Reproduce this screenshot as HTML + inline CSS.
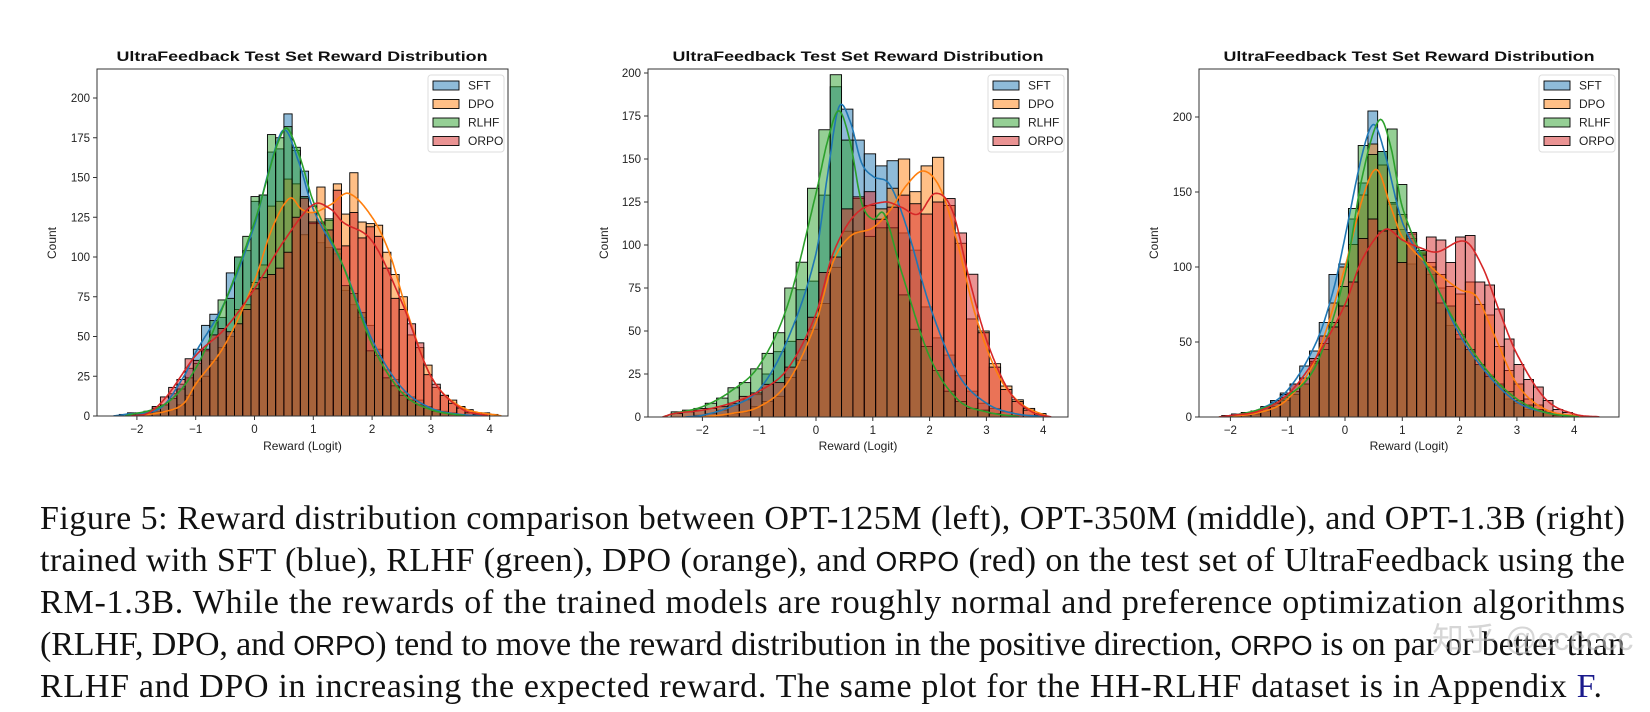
<!DOCTYPE html>
<html><head><meta charset="utf-8"><style>
html,body{margin:0;padding:0;background:#fff;}
svg{display:block;}
</style></head><body>
<svg id="s" width="1650" height="712" xmlns="http://www.w3.org/2000/svg" font-family="'Liberation Sans', 'DejaVu Sans', sans-serif">
<rect width="1650" height="712" fill="#fff"/>
<g id="plots"></g>
<g font-family="'Liberation Serif', serif" font-size="34" fill="#111">
<text x="40" y="529" textLength="1585" lengthAdjust="spacing">Figure 5: Reward distribution comparison between OPT-125M (left), OPT-350M (middle), and OPT-1.3B (right)</text>
<text x="40" y="571" textLength="1585" lengthAdjust="spacing">trained with SFT (blue), RLHF (green), DPO (orange), and <tspan font-family="'Liberation Sans', sans-serif" font-size="28">ORPO</tspan> (red) on the test set of UltraFeedback using the</text>
<text x="40" y="613" textLength="1585" lengthAdjust="spacing">RM-1.3B. While the rewards of the trained models are roughly normal and preference optimization algorithms</text>
<text x="40" y="655" textLength="1585" lengthAdjust="spacing">(RLHF, DPO, and <tspan font-family="'Liberation Sans', sans-serif" font-size="28">ORPO</tspan>) tend to move the reward distribution in the positive direction, <tspan font-family="'Liberation Sans', sans-serif" font-size="28">ORPO</tspan> is on par or better than</text>
<text x="40" y="697" textLength="1562" lengthAdjust="spacing">RLHF and DPO in increasing the expected reward. The same plot for the HH-RLHF dataset is in Appendix <tspan fill="#1a1a8c">F</tspan>.</text>
</g>
<text x="1432" y="650" font-family="'Liberation Sans','Noto Sans CJK SC',sans-serif" font-size="32" fill="#bbb" opacity="0.6">知乎 @cccccc</text>
</svg>
<script>
var NS="http://www.w3.org/2000/svg";
function el(t,a,p){var e=document.createElementNS(NS,t);for(var k in a)e.setAttribute(k,a[k]);(p||G).appendChild(e);return e;}
var G=document.getElementById('plots');
function interp(p,x){
 if(x<=p[0][0]||x>=p[p.length-1][0])return 0;
 for(var i=0;i<p.length-1;i++){if(x>=p[i][0]&&x<=p[i+1][0])break;}
 var p0=p[Math.max(0,i-1)],p1=p[i],p2=p[i+1],p3=p[Math.min(p.length-1,i+2)];
 var t=(x-p1[0])/(p2[0]-p1[0]);
 var h=p2[0]-p1[0];
 var m1=(p2[1]-p0[1])/(p2[0]-p0[0]||1)*h, m2=(p3[1]-p1[1])/(p3[0]-p1[0]||1)*h;
 var t2=t*t,t3=t2*t;
 var v=(2*t3-3*t2+1)*p1[1]+(t3-2*t2+t)*m1+(-2*t3+3*t2)*p2[1]+(t3-t2)*m2;
 return Math.max(0,v);
}
function noise(i,s){var v=Math.sin(i*12.9898+s*78.233)*43758.5453;return (v-Math.floor(v))*2-1;}
var cols={SFT:'#1f77b4',DPO:'#ff7f0e',RLHF:'#2ca02c',ORPO:'#d62728'};
var plots=[
{L:97,R:508,T:69,B:416,x0:254.5,u:58.8,pc:1.59,yt:[0,25,50,75,100,125,150,175,200],bs:-2.3,bw:0.14,nb:46,cx:302,lx:52,
 c:{SFT:[[-2.4,0],[-2.2,1],[-1.6,5],[-1.2,25],[-1,40],[-0.5,72],[0,120],[0.25,155],[0.5,180],[0.75,160],[1,130],[1.5,95],[2,48],[2.5,18],[3,5],[3.5,1],[4,0]],
 DPO:[[-2,0],[-1.5,3],[-1.2,8],[-1,20],[-0.5,45],[0,85],[0.3,118],[0.6,137],[0.8,130],[1,128],[1.3,133],[1.6,140],[2,125],[2.3,102],[2.6,65],[3,25],[3.5,6],[4.2,0]],
 RLHF:[[-2.2,0],[-1.5,8],[-1,30],[-0.5,72],[0,122],[0.5,180],[0.75,165],[1,135],[1.5,95],[2,45],[2.5,15],[3,4],[3.6,0]],
 ORPO:[[-2.1,0],[-1.8,2],[-1.5,12],[-1,38],[-0.5,55],[0,80],[0.5,110],[1,133],[1.3,130],[1.5,122],[2,110],[2.5,72],[3,25],[3.5,5],[4,0]]}},
{L:648,R:1068,T:69,B:417,x0:816,u:56.8,pc:1.72,yt:[0,25,50,75,100,125,150,175,200],bs:-2.55,bw:0.2,nb:34,cx:858,lx:604,
 c:{SFT:[[-2.3,0],[-2,1],[-1.5,6],[-1,16],[-0.5,45],[0,95],[0.2,140],[0.4,180],[0.6,172],[0.8,148],[1,140],[1.3,135],[1.6,110],[2,65],[2.5,25],[3,8],[3.5,2],[4.1,0]],
 DPO:[[-2,0],[-1.5,2],[-1,6],[-0.5,20],[0,55],[0.3,90],[0.6,105],[1,110],[1.3,120],[1.6,135],[1.9,143],[2.2,132],[2.5,100],[2.8,60],[3.2,25],[3.6,8],[4.1,0]],
 RLHF:[[-2.7,0],[-2.5,2],[-2,6],[-1.5,15],[-1,30],[-0.5,65],[0,130],[0.2,160],[0.4,178],[0.6,160],[0.8,125],[1,115],[1.2,118],[1.5,85],[2,35],[2.5,10],[3,3],[3.6,0]],
 ORPO:[[-2.7,0],[-2.5,2],[-2,4],[-1.5,8],[-1,15],[-0.5,28],[0,60],[0.3,95],[0.7,118],[1.2,125],[1.5,122],[1.8,118],[2.1,130],[2.4,120],[2.7,80],[3,45],[3.4,15],[3.8,3],[4.15,0]]}},
{L:1199,R:1619,T:69,B:417,x0:1345,u:57.3,pc:1.5,yt:[0,50,100,150,200],bs:-2.15,bw:0.17,nb:39,cx:1409,lx:1154,
 c:{SFT:[[-2.2,0],[-2,1],[-1.5,5],[-1,18],[-0.5,50],[-0.2,85],[0,120],[0.3,175],[0.5,195],[0.7,175],[1,130],[1.5,95],[2,55],[2.5,28],[3,10],[3.5,3],[4.1,0]],
 DPO:[[-2.2,0],[-1.5,3],[-1,12],[-0.5,40],[0,100],[0.3,145],[0.55,165],[0.8,140],[1,120],[1.5,100],[2,85],[2.3,80],[2.6,55],[3,22],[3.5,5],[4.2,0]],
 RLHF:[[-2.1,0],[-1.5,5],[-1,14],[-0.5,35],[0,95],[0.3,160],[0.6,198],[0.8,180],[1,140],[1.5,95],[2,58],[2.5,30],[3,12],[3.5,3],[4.1,0]],
 ORPO:[[-2.2,0],[-2,1],[-1.5,4],[-1,15],[-0.5,40],[0,75],[0.3,105],[0.7,125],[1,118],[1.3,113],[1.6,110],[2.1,117],[2.4,100],[2.7,70],[3,42],[3.5,12],[4,2],[4.45,0]]}}
];
var order=['SFT','DPO','RLHF','ORPO'];
plots.forEach(function(P,pi){
 var X=function(v){return P.x0+v*P.u;}, Y=function(c){return P.B-c*P.pc;};
 var clip='c'+pi;
 var cp=el('clipPath',{id:clip});el('rect',{x:P.L,y:P.T,width:P.R-P.L,height:P.B-P.T},cp);
 var g=el('g',{'clip-path':'url(#'+clip+')'});
 order.forEach(function(k,si){
  for(var i=0;i<P.nb;i++){
   var a=P.bs+i*P.bw,m=a+P.bw/2;
   var v=interp(P.c[k],m); if(v<0.6)continue;
   v=v*(1+0.13*noise(i,si+pi*7)); v=Math.round(v); if(v<1)continue;
   el('rect',{x:X(a),y:Y(v),width:P.bw*P.u,height:v*P.pc,fill:cols[k],'fill-opacity':0.5,stroke:'#000','stroke-width':0.9},g);
  }
 });
 order.forEach(function(k){
  var pts=P.c[k],d='';
  for(var x=pts[0][0];x<=pts[pts.length-1][0];x+=0.02){d+=(d?'L':'M')+X(x).toFixed(1)+','+Y(interp(pts,x)).toFixed(1);}
  el('path',{d:d,fill:'none',stroke:cols[k],'stroke-width':1.6},g);
 });
 el('rect',{x:P.L,y:P.T,width:P.R-P.L,height:P.B-P.T,fill:'none',stroke:'#333','stroke-width':1});
 for(var t=-2;t<=4;t++){var x=X(t);el('line',{x1:x,x2:x,y1:P.B,y2:P.B+4,stroke:'#333'});
  var tx=el('text',{x:x,y:P.B+17,'text-anchor':'middle','font-size':11.5,fill:'#222'});tx.textContent=(t<0?'\u2212'+(-t):t);}
 P.yt.forEach(function(t){var y=Y(t);el('line',{x1:P.L-4,x2:P.L,y1:y,y2:y,stroke:'#333'});
  var tx=el('text',{x:P.L-7,y:y+4,'text-anchor':'end','font-size':11.5,fill:'#222'});tx.textContent=t;});
 var tt=el('text',{x:P.cx,y:61,'text-anchor':'middle','font-size':14,'font-weight':'bold',fill:'#111',textLength:371,lengthAdjust:'spacingAndGlyphs'});tt.textContent='UltraFeedback Test Set Reward Distribution';
 var xl=el('text',{x:(P.L+P.R)/2,y:450,'text-anchor':'middle','font-size':12,fill:'#222'});xl.textContent='Reward (Logit)';
 var yl=el('text',{x:0,y:0,'text-anchor':'middle','font-size':12,fill:'#222',transform:'translate('+(P.lx+4)+',243) rotate(-90)'});yl.textContent='Count';
 var lx=P.R-80,ly=75;
 el('rect',{x:lx,y:ly,width:76,height:77,rx:3,fill:'#fff','fill-opacity':0.85,stroke:'#ddd'});
 order.forEach(function(k,i){var y=ly+10+i*18.5;
  el('rect',{x:lx+5,y:y-4,width:26,height:9,fill:cols[k],'fill-opacity':0.5,stroke:'#000','stroke-width':0.9});
  var tx=el('text',{x:lx+40,y:y+4.5,'font-size':12,fill:'#222'});tx.textContent=k;});
});
</script>
</body></html>
